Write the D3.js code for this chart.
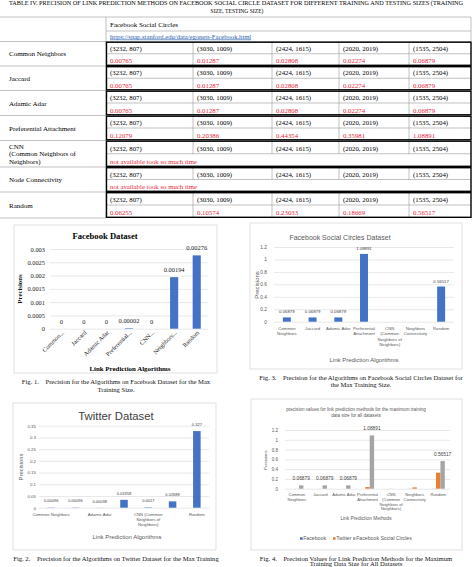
<!DOCTYPE html>
<html>
<head>
<meta charset="UTF-8">
<title>Link prediction precision</title>
<script src="https://d3js.org/d3.v7.min.js"></script>
<style>
  body { margin: 0; background: #fff; }
  svg { display: block; }
  .serif { font-family: "Liberation Serif", "Times New Roman", serif; }
  .sans { font-family: "Liberation Sans", Arial, sans-serif; }
</style>
</head>
<body>
<svg id="page" width="474" height="567"></svg>
<script>
// ---- table data ----
const trainTest = ["(3232, 807)", "(3030, 1009)", "(2424, 1615)", "(2020, 2019)", "(1535, 2504)"];
const tableMethods = [["Common Neighbors"], ["Jaccard"], ["Adamic Adar"], ["Preferential Attachment"],
  ["CNN", "(Common Neighbors of", "Neighbors)"], ["Node Connectivity"], ["Random"]];
const tableValues = [
  ["0.00765", "0.01287", "0.02808", "0.02274", "0.06879"],
  ["0.00765", "0.01287", "0.02808", "0.02274", "0.06879"],
  ["0.00765", "0.01287", "0.02808", "0.02274", "0.06879"],
  ["0.12079", "0.20386", "0.44354", "0.35981", "1.08891"],
  null,
  null,
  ["0.06255", "0.10574", "0.23033", "0.18669", "0.56517"]
];

// ---- chart data ----
const algoShort = ["Common...", "Jaccard", "Adamic Adar", "Preferential...", "CNN...", "Neighbors...", "Random"];
const algoWrapped = [["Common", "Neighbors"], ["Jaccard"], ["Adamic Adar"], ["Preferential", "Attachment"],
  ["CNN", "(Common", "Neighbors of", "Neighbors)"], ["Neighbors", "Connectivity"], ["Random"]];
const algoTwitter = [["Common Neighbors"], [], ["Adamic Adar"], [], ["CNN (Common", "Neighbors of", "Neighbors)"], [], ["Random"]];

const facebook = [0, 0, 0, 0.00002, 0, 0.00194, 0.00276];
const twitter = [0.00096, 0.00096, 0.00038, 0.03358, 0.0017, 0.02688, 0.327];
const socialCircles = [0.06879, 0.06879, 0.06879, 1.08891, null, null, 0.56517];
const socialLabels = ["0.06879", "0.06879", "0.06879", "1.08891", "", "", "0.56517"];

const fbTicks = [0, 0.0005, 0.001, 0.0015, 0.002, 0.0025, 0.003];
const fbTickLabels = ["0", "0.0005", "0.001", "0.0015", "0.002", "0.0025", "0.003"];
const scTicks = [0, 0.2, 0.4, 0.6, 0.8, 1, 1.2];
const scTickLabels = ["0", "0.2", "0.4", "0.6", "0.8", "1", "1.2"];
const twTicks = [0, 0.05, 0.1, 0.15, 0.2, 0.25, 0.3, 0.35];
const twTickLabels = ["0", "0.05", "0.1", "0.15", "0.2", "0.25", "0.3", "0.35"];
const seriesNames = ["Facebook", "Twitter", "Facebook Social Circles"];

const BLUE = "#4472C4", ORANGE = "#ED7D31", GREY = "#A5A5A5";
const RED = "#e8283c", GRID = "#d9d9d9", TXT = "#595959";

const svg = d3.select("#page");
svg.append("rect").attr("width", 474).attr("height", 567).attr("fill", "#fff");

// ================= TABLE =================
const tbl = svg.append("g").attr("class", "serif");
tbl.append("text").attr("x", 9).attr("y", 4.5).attr("font-size", 5.6)
  .attr("textLength", 454).attr("lengthAdjust", "spacingAndGlyphs")
  .text("TABLE IV.      PRECISION OF LINK PREDICTION METHODS ON FACEBOOK SOCIAL CIRCLE DATASET FOR DIFFERENT TRAINING AND TESTING SIZES (TRAINING");
tbl.append("text").attr("x", 237).attr("y", 12.5).attr("font-size", 5.6).attr("text-anchor", "middle")
  .text("SIZE, TESTING SIZE)");

const colX = [106, 193, 272, 339, 409, 471];
const rowY = [41.5, 66, 90.5, 115.5, 140.5, 167, 192, 218];
const thin = (x1, y1, x2, y2) => tbl.append("line").attr("x1", x1).attr("y1", y1).attr("x2", x2).attr("y2", y2)
  .attr("stroke", "#999").attr("stroke-width", 0.6);

thin(0, 17, 471, 17);
thin(106, 31, 471, 31);
thin(0, 41.5, 471, 41.5);
thin(106, 17, 106, 218);
thin(471, 17, 471, 41.5);
tbl.append("text").attr("x", 110).attr("y", 27).attr("font-size", 7).text("Facebook Social Circles");
tbl.append("text").attr("x", 110).attr("y", 38.5).attr("font-size", 6.6).attr("fill", "#2a5db0")
  .attr("text-decoration", "underline").text("https://snap.stanford.edu/data/egonets-Facebook.html");

tableMethods.forEach((lines, i) => {
  const top = rowY[i], bot = rowY[i + 1], mid = (top + bot) / 2;
  thin(0, bot, 106, bot);
  thin(106, mid, 471, mid);
  const vals = tableValues[i];
  colX.slice(1, -1).forEach(x => thin(x, top, x, vals ? bot : mid));
  trainTest.forEach((s, j) => tbl.append("text").attr("x", colX[j] + 4).attr("y", mid - 3)
    .attr("font-size", 6.8).text(s));
  if (vals) {
    vals.forEach((v, j) => tbl.append("text").attr("x", colX[j] + 4).attr("y", bot - 3)
      .attr("font-size", 6.8).attr("fill", RED).text(v));
  } else {
    tbl.append("text").attr("x", 110).attr("y", bot - 3).attr("font-size", 6.8).attr("fill", RED)
      .text("not available took so much time");
  }
  const lt = tbl.append("text").attr("x", 9).attr("font-size", 7)
    .attr("y", (top + bot) / 2 + 2.5 - (lines.length - 1) * 3.8);
  lines.forEach((l, k) => lt.append("tspan").attr("x", 9).attr("dy", k ? 7.6 : 0).text(l));
  tbl.append("rect").attr("x", 106.5).attr("y", top + 0.7).attr("width", 364.5).attr("height", bot - top - 1.4)
    .attr("fill", "none").attr("stroke", "#000").attr("stroke-width", 1.4);
});

// ================= helpers =================
function frame(x, y, w, h) {
  svg.append("rect").attr("x", x).attr("y", y).attr("width", w).attr("height", h)
    .attr("fill", "#fff").attr("stroke", GRID).attr("stroke-width", 0.8);
}
function yAxis(g, y, x0, x1, ticks, labels, pad, font, size, color) {
  const ax = g.append("g").attr("transform", `translate(${x0},0)`)
    .call(d3.axisLeft(y).tickValues(ticks).tickFormat((d, i) => labels[i])
      .tickSize(-(x1 - x0)).tickPadding(pad));
  ax.select(".domain").remove();
  ax.selectAll("line").attr("stroke", GRID).attr("stroke-width", 0.6);
  ax.selectAll("text").attr("font-family", font).attr("font-size", size).attr("fill", color);
}
function rotLabel(g, x, y, txt, cls, size, color, weight) {
  g.append("text").attr("class", cls).attr("transform", `translate(${x},${y}) rotate(-90)`)
    .attr("text-anchor", "middle").attr("font-size", size).attr("fill", color)
    .attr("font-weight", weight || "normal").text(txt);
}
function wrapped(g, x, y, lines, size, lh) {
  const t = g.append("text").attr("class", "sans").attr("text-anchor", "middle")
    .attr("font-size", size).attr("fill", TXT).attr("y", y);
  lines.forEach((l, k) => t.append("tspan").attr("x", x).attr("dy", k ? lh : 0).text(l));
}
function caption(x, ys, lines) {
  lines.forEach((l, k) => svg.append("text").attr("class", "serif").attr("x", x).attr("y", ys[k])
    .attr("text-anchor", "middle").attr("font-size", 6.6).attr("fill", "#111")
    .attr("xml:space", "preserve").style("white-space", "pre").text(l));
}
const idx = d3.range(7);

// ================= Fig 1: Facebook Dataset =================
{
  frame(14, 225, 203, 148);
  const g = svg.append("g");
  const x = d3.scaleBand().domain(idx).range([50, 208]).paddingInner(0.64).paddingOuter(0.32);
  const y = d3.scaleLinear().domain([0, 0.003]).range([328.7, 249]);
  yAxis(g, y, 50, 208, fbTicks, fbTickLabels, 5, "Liberation Serif", 6.4, "#222");
  g.selectAll(".b").data(facebook).join("rect").attr("fill", BLUE)
    .attr("x", (d, i) => x(i)).attr("width", x.bandwidth())
    .attr("y", d => y(d)).attr("height", d => y(0) - y(d));
  g.selectAll(".v").data(facebook).join("text").attr("class", "serif").attr("text-anchor", "middle")
    .attr("font-size", 6.4).attr("fill", "#222")
    .attr("x", (d, i) => x(i) + x.bandwidth() / 2).attr("y", d => y(d) - 5).text(d => String(d));
  g.selectAll(".xl").data(algoShort).join("text").attr("class", "serif").attr("text-anchor", "end")
    .attr("font-size", 6.2).attr("fill", "#222")
    .attr("transform", (d, i) => `translate(${x(i) + x.bandwidth() / 2 + 3},${333}) rotate(-45)`).text(d => d);
  g.append("text").attr("class", "serif").attr("x", 105).attr("y", 239).attr("text-anchor", "middle")
    .attr("font-size", 8.6).attr("font-weight", "bold").text("Facebook Dataset");
  rotLabel(g, 22, 289, "Precisions", "serif", 6.8, "#111", "bold");
  g.append("text").attr("class", "serif").attr("x", 130).attr("y", 370.5).attr("text-anchor", "middle")
    .attr("font-size", 6.9).attr("font-weight", "bold").text("Link Prediction Algorithms");
  caption(116, [384, 392], ["Fig. 1.    Precision for the Algorithms on Facebook Dataset for the Max", "Training Size."]);
}

// ================= Fig 3: Facebook Social Circles Dataset =================
{
  frame(250, 223, 212, 146);
  const g = svg.append("g");
  const x = d3.scaleBand().domain(idx).range([274, 454]).paddingInner(0.69).paddingOuter(0.345);
  const y = d3.scaleLinear().domain([0, 1.2]).range([321.7, 247]);
  yAxis(g, y, 274, 454, scTicks, scTickLabels, 7, "Liberation Sans", 4.8, TXT);
  const pts = socialCircles.map((v, i) => ({ v, i })).filter(d => d.v != null);
  g.selectAll(".b").data(pts).join("rect").attr("fill", BLUE)
    .attr("x", d => x(d.i)).attr("width", x.bandwidth())
    .attr("y", d => y(d.v)).attr("height", d => y(0) - y(d.v));
  g.selectAll(".v").data(pts).join("text").attr("class", "sans").attr("text-anchor", "middle")
    .attr("font-size", 4.3).attr("fill", "#404040")
    .attr("x", d => x(d.i) + x.bandwidth() / 2).attr("y", d => y(d.v) - 4).text(d => socialLabels[d.i]);
  algoWrapped.forEach((l, i) => wrapped(g, x(i) + x.bandwidth() / 2, 330, l, 4.3, 5.3));
  g.append("text").attr("class", "sans").attr("x", 340).attr("y", 240).attr("text-anchor", "middle")
    .attr("font-size", 7).attr("fill", TXT).text("Facebook Social Circles Dataset");
  rotLabel(g, 259, 285, "Precisions", "sans", 6, TXT);
  g.append("text").attr("class", "sans").attr("x", 364).attr("y", 362).attr("text-anchor", "middle")
    .attr("font-size", 6).attr("fill", TXT).text("Link Prediction Algorithms");
  caption(361, [379.5, 387], ["Fig. 3.    Precision for the Algorithms on Facebook Social Circles Dataset for", "the Max Training Size."]);
}

// ================= Fig 2: Twitter Dataset =================
{
  frame(13, 403, 203, 147);
  const g = svg.append("g");
  const x = d3.scaleBand().domain(idx).range([39, 209]).paddingInner(0.69).paddingOuter(0.345);
  const y = d3.scaleLinear().domain([0, 0.35]).range([507.7, 425.7]);
  yAxis(g, y, 39, 209, twTicks, twTickLabels, 3, "Liberation Sans", 4.4, TXT);
  g.selectAll(".b").data(twitter).join("rect").attr("fill", BLUE)
    .attr("x", (d, i) => x(i)).attr("width", x.bandwidth())
    .attr("y", d => y(d)).attr("height", d => y(0) - y(d));
  g.selectAll(".v").data(twitter).join("text").attr("class", "sans").attr("text-anchor", "middle")
    .attr("font-size", 4).attr("fill", "#404040")
    .attr("x", (d, i) => x(i) + x.bandwidth() / 2).attr("y", d => y(d) - 5).text(d => String(d));
  algoTwitter.forEach((l, i) => wrapped(g, x(i) + x.bandwidth() / 2, 515.5, l, 4.2, 5.4));
  g.append("text").attr("class", "sans").attr("x", 116).attr("y", 419.5).attr("text-anchor", "middle")
    .attr("font-size", 11.3).attr("fill", "#404040").text("Twitter Dataset");
  rotLabel(g, 23, 467, "Precisions", "sans", 5.8, TXT);
  g.append("text").attr("class", "sans").attr("x", 127).attr("y", 538.5).attr("text-anchor", "middle")
    .attr("font-size", 6).attr("fill", TXT).text("Link Prediction Algorithms");
  caption(116, [561], ["Fig. 2.    Precision for the Algorithms on Twitter Dataset for the Max Training"]);
}

// ================= Fig 4: all datasets =================
{
  frame(251, 399, 211, 151);
  const g = svg.append("g");
  const x = d3.scaleBand().domain(idx).range([285, 450]).paddingInner(0.44).paddingOuter(0.22);
  const xs = d3.scaleBand().domain([0, 1, 2]).range([0, x.bandwidth()]);
  const y = d3.scaleLinear().domain([0, 1.2]).range([488.7, 430]);
  const colors = [BLUE, ORANGE, GREY];
  yAxis(g, y, 285, 450, scTicks, scTickLabels, 7, "Liberation Sans", 4.5, TXT);
  const series = [facebook, twitter, socialCircles];
  series.forEach((s, k) => {
    const pts = s.map((v, i) => ({ v, i })).filter(d => d.v != null);
    g.selectAll(".s" + k).data(pts).join("rect").attr("fill", colors[k])
      .attr("x", d => x(d.i) + xs(k)).attr("width", xs.bandwidth())
      .attr("y", d => y(d.v)).attr("height", d => y(0) - y(d.v));
  });
  const lab = socialCircles.map((v, i) => ({ v, i })).filter(d => d.v != null);
  g.selectAll(".v").data(lab).join("text").attr("class", "sans").attr("text-anchor", "middle")
    .attr("font-size", 4.8).attr("fill", "#404040")
    .attr("x", d => x(d.i) + xs(2) + xs.bandwidth() / 2).attr("y", d => y(d.v) - 5.5).text(d => socialLabels[d.i]);
  algoWrapped.forEach((l, i) => wrapped(g, x(i) + x.bandwidth() / 2, 496, l, 4.1, 4.8));
  ["precision values for link prediction methods for the maximum training", "data size for all datasets"]
    .forEach((t, k) => g.append("text").attr("class", "sans").attr("x", 356).attr("y", 410.5 + k * 6)
      .attr("text-anchor", "middle").attr("font-size", 4.6).attr("fill", TXT).text(t));
  rotLabel(g, 267, 460, "Precisions", "sans", 4.2, TXT);
  g.append("text").attr("class", "sans").attr("x", 366).attr("y", 520).attr("text-anchor", "middle")
    .attr("font-size", 4.8).attr("fill", TXT).text("Link Prediction Methods");
  const legX = [300, 333, 353];
  seriesNames.forEach((n, k) => {
    g.append("rect").attr("x", legX[k]).attr("y", 537.2).attr("width", 2.6).attr("height", 2.6).attr("fill", colors[k]);
    g.append("text").attr("class", "sans").attr("x", legX[k] + 3.2).attr("y", 540).attr("font-size", 5.2)
      .attr("fill", TXT).text(n);
  });
  caption(356, [560.5, 566], ["Fig. 4.    Precision Values for Link Prediction Methods for the Maximum",
    "Training Data Size for All Datasets"]);
}
</script>
</body>
</html>
